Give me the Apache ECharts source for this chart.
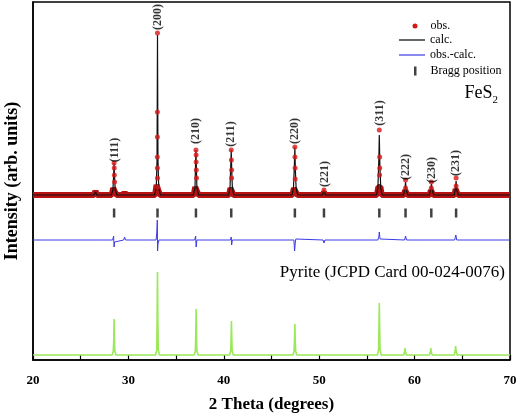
<!DOCTYPE html>
<html>
<head>
<meta charset="utf-8">
<script src="https://cdn.jsdelivr.net/npm/echarts@6/dist/echarts.min.js"></script>
<style>
  html, body { margin: 0; padding: 0; background: #fff; }
  #chart { width: 520px; height: 415px; }
</style>
</head>
<body>
<div id="chart"></div>
<script>
// intensity in arbitrary units, offsets as stacked in the figure
var obsBase = [
  [20, 165], [26.4, 165], [26.55, 169], [26.7, 165], [28.25, 165], [28.4, 172], [28.6, 172], [28.75, 165],
  [29.5, 165], [29.6, 168], [29.7, 165], [32.8, 165], [32.95, 175], [33.15, 175], [33.3, 165],
  [36.85, 165], [37.0, 173], [37.2, 173], [37.35, 165], [40.55, 165], [40.7, 172], [40.88, 172], [41.0, 165],
  [47.2, 165], [47.35, 172], [47.55, 172], [47.7, 165], [50.4, 165], [50.5, 168], [50.6, 165],
  [56.05, 165], [56.2, 173], [56.42, 173], [56.55, 165], [58.9, 165], [59.0, 170], [59.12, 170], [59.25, 165],
  [61.6, 165], [61.7, 170], [61.82, 170], [61.95, 165], [64.2, 165], [64.3, 171], [64.42, 171], [64.55, 165],
  [70, 165]
];

var obsPeaks = [
  [28.5, 197], [28.52, 192], [28.53, 185], [28.55, 178],
  [33.05, 327], [33.04, 248], [33.04, 223], [33.03, 203], [33.04, 192], [33.05, 182], [33.05, 173],
  [37.08, 210], [37.1, 205], [37.1, 198], [37.12, 190], [37.14, 182],
  [40.78, 210], [40.8, 200], [40.82, 190], [40.82, 182],
  [47.45, 213], [47.46, 203], [47.47, 192], [47.48, 181],
  [50.5, 170],
  [56.3, 230], [56.34, 203], [56.35, 192], [56.33, 185],
  [59.05, 180], [59.05, 172],
  [61.75, 178], [61.75, 172],
  [64.35, 182], [64.35, 174]
];

var calcProfile = [
  [20, 165], [26.4, 165], [26.55, 168], [26.7, 165], [28.2, 165], [28.38, 170], [28.45, 185], [28.5, 197],
  [28.55, 183], [28.62, 170], [28.8, 165], [29.5, 165], [29.6, 167], [29.7, 165],
  [32.75, 165], [32.92, 172], [33.0, 200], [33.05, 325], [33.1, 200], [33.18, 172], [33.35, 165],
  [36.8, 165], [36.98, 172], [37.05, 200], [37.08, 210], [37.12, 195], [37.18, 172], [37.35, 165],
  [40.5, 165], [40.65, 172], [40.73, 195], [40.78, 210], [40.83, 190], [40.9, 172], [41.05, 165],
  [47.15, 165], [47.3, 172], [47.4, 195], [47.45, 213], [47.5, 190], [47.58, 172], [47.75, 165],
  [50.35, 165], [50.5, 170], [50.65, 165],
  [56.0, 165], [56.15, 172], [56.25, 200], [56.3, 225], [56.36, 195], [56.45, 172], [56.6, 165],
  [58.85, 165], [59.0, 172], [59.05, 178], [59.12, 170], [59.3, 165],
  [61.55, 165], [61.7, 172], [61.77, 176], [61.85, 170], [62.0, 165],
  [64.15, 165], [64.28, 172], [64.35, 179], [64.42, 170], [64.6, 165], [70, 165]
];

var diffProfile = [
  [20, 120], [26.5, 120], [26.7, 121], [26.9, 120], [28.35, 120], [28.45, 124], [28.5, 113], [28.55, 118], [28.6, 120],
  [29.5, 120], [29.6, 123], [29.7, 120],
  [32.9, 120], [32.98, 128], [33.03, 140], [33.06, 109], [33.1, 116], [33.2, 120],
  [36.95, 120], [37.05, 124], [37.1, 113], [37.18, 120],
  [40.7, 120], [40.78, 123], [40.82, 115], [40.9, 120],
  [47.35, 120], [47.42, 109], [47.5, 118], [47.55, 121], [47.65, 120],
  [50.4, 120], [50.5, 117], [50.6, 120],
  [56.15, 120], [56.25, 123], [56.3, 128], [56.38, 121], [56.5, 120],
  [58.95, 120], [59.05, 124], [59.15, 120],
  [61.6, 120], [61.72, 122], [61.85, 120],
  [64.2, 120], [64.32, 125], [64.42, 120], [70, 120]
];

var pyriteRef = [
  [20, 5], [28.3, 5], [28.42, 9], [28.47, 22], [28.5, 41], [28.53, 22], [28.58, 9], [28.7, 5],
  [32.85, 5], [32.97, 10], [33.01, 40], [33.05, 88], [33.09, 40], [33.13, 10], [33.25, 5],
  [36.9, 5], [37.02, 9], [37.06, 26], [37.1, 51], [37.14, 26], [37.18, 9], [37.3, 5],
  [40.6, 5], [40.72, 9], [40.76, 21], [40.8, 39], [40.84, 21], [40.88, 9], [41.0, 5],
  [47.25, 5], [47.37, 9], [47.41, 20], [47.45, 36], [47.49, 20], [47.53, 9], [47.65, 5],
  [56.1, 5], [56.22, 10], [56.26, 30], [56.3, 57], [56.34, 30], [56.38, 10], [56.5, 5],
  [58.85, 5], [58.95, 8], [59.0, 12], [59.05, 8], [59.15, 5],
  [61.55, 5], [61.65, 8], [61.7, 12], [61.75, 8], [61.85, 5],
  [64.15, 5], [64.25, 9], [64.3, 14], [64.35, 9], [64.45, 5],
  [70, 5]
];

var braggPos = [28.5, 33.05, 37.08, 40.78, 47.45, 50.5, 56.3, 59.05, 61.75, 64.35];
var braggLevel = 147;

var hklLabels = ['(111)', '(200)', '(210)', '(211)', '(220)', '(221)', '(311)', '(222)', '(230)', '(231)'];
var hklX = [28.6, 33.1, 37.1, 40.75, 47.46, 50.6, 56.37, 59.1, 61.8, 64.3];
var hklY = [210, 343, 229, 226, 229, 186, 247, 193, 190, 197];

var serif = 'Liberation Serif';
var legendText = { fontFamily: serif, fontSize: 12, color: '#000' };
var lineIcon = 'path://M0,0L26,0L26,1.2L0,1.2Z';

var chart = echarts.init(document.getElementById('chart'));

chart.setOption({
  animation: false,
  backgroundColor: '#fff',
  grid: {
    left: 33, right: 10, top: 2, bottom: 55,
    outerBoundsMode: 'none',
    show: true, borderColor: '#000', borderWidth: 1.5
  },
  legend: [
    {
      data: [{ name: 'obs.', icon: 'circle' }],
      orient: 'vertical', left: 412.5, top: 20, padding: 0,
      itemWidth: 5, itemHeight: 5, selectedMode: false,
      textStyle: { fontFamily: serif, fontSize: 12, color: '#000', padding: [0, 0, 0, 8] }
    },
    {
      data: [{ name: 'calc.', icon: lineIcon }, { name: 'obs.-calc.', icon: lineIcon }],
      orient: 'vertical', left: 399, top: 34, itemGap: 3, padding: 0,
      itemWidth: 26, itemHeight: 14, selectedMode: false,
      textStyle: legendText
    },
    {
      data: [{ name: 'Bragg position', icon: 'rect' }],
      orient: 'vertical', left: 414, top: 65, padding: 0,
      itemWidth: 2.5, itemHeight: 9, selectedMode: false,
      textStyle: { fontFamily: serif, fontSize: 12, color: '#000', padding: [0, 0, 0, 9] }
    }
  ],
  graphic: [
    {
      type: 'text', right: 22, top: 84,
      style: {
        text: 'FeS{s|2}',
        font: '18px "Liberation Serif"', fill: '#000',
        rich: { s: { fontSize: 11, fontFamily: serif, padding: [14, 0, 0, 0] } }
      }
    },
    {
      type: 'text', right: 15, top: 264,
      style: { text: 'Pyrite (JCPD Card 00-024-0076)', font: '17px "Liberation Serif"', fill: '#000' }
    }
  ],
  xAxis: {
    type: 'value', min: 20, max: 70, interval: 10,
    name: '2 Theta (degrees)', nameLocation: 'middle', nameGap: 36,
    nameTextStyle: { fontFamily: serif, fontWeight: 'bold', fontSize: 17, color: '#000' },
    axisLine: { lineStyle: { color: '#000', width: 1.5 } },
    axisTick: { inside: true, length: 5, lineStyle: { color: '#000', width: 1.2 } },
    minorTick: { show: true, splitNumber: 2, length: 5, lineStyle: { color: '#000', width: 1.2 } },
    axisLabel: { fontFamily: serif, fontWeight: 'bold', fontSize: 13, color: '#000', margin: 14 },
    splitLine: { show: false }
  },
  yAxis: {
    type: 'value', min: 0, max: 358,
    name: 'Intensity (arb. units)', nameLocation: 'middle', nameGap: 12,
    nameTextStyle: { fontFamily: serif, fontWeight: 'bold', fontSize: 18, color: '#000' },
    axisLine: { show: true, lineStyle: { color: '#000', width: 1.5 } },
    axisTick: { show: false },
    axisLabel: { show: false },
    splitLine: { show: false }
  },
  series: [
    {
      name: 'Pyrite', type: 'line', data: pyriteRef, symbol: 'none', z: 2,
      lineStyle: { color: '#9be85a', width: 1.6 }
    },
    {
      name: 'obs.-calc.', type: 'line', data: diffProfile, symbol: 'none', z: 2,
      color: '#3a3ae6', lineStyle: { color: '#3a3ae6', width: 1 }
    },
    {
      name: 'obs.', type: 'line', data: obsBase, symbol: 'none', z: 2,
      color: '#d01818', lineStyle: { color: '#b81212', width: 6 }
    },
    {
      name: 'calc.', type: 'line', data: calcProfile, symbol: 'none', z: 3,
      color: '#000', lineStyle: { color: '#111', width: 1.2 }
    },
    {
      name: 'obs.', type: 'scatter', data: obsPeaks, symbol: 'circle', symbolSize: 5, z: 4,
      itemStyle: { color: '#d81818' }
    },
    {
      name: 'Bragg position', type: 'scatter', z: 3,
      data: braggPos.map(function (p) { return [p, braggLevel]; }),
      symbol: 'rect', symbolSize: [2.5, 9],
      itemStyle: { color: '#111' }
    },
    {
      name: 'hkl', type: 'scatter', symbolSize: 0, z: 5,
      data: hklX.map(function (x, i) { return { value: [x, hklY[i]], label: { formatter: hklLabels[i] } }; }),
      label: {
        show: true, position: 'inside', rotate: 90,
        fontFamily: serif, fontWeight: 'bold', fontSize: 12, color: '#000'
      }
    }
  ]
});
</script>
</body>
</html>
